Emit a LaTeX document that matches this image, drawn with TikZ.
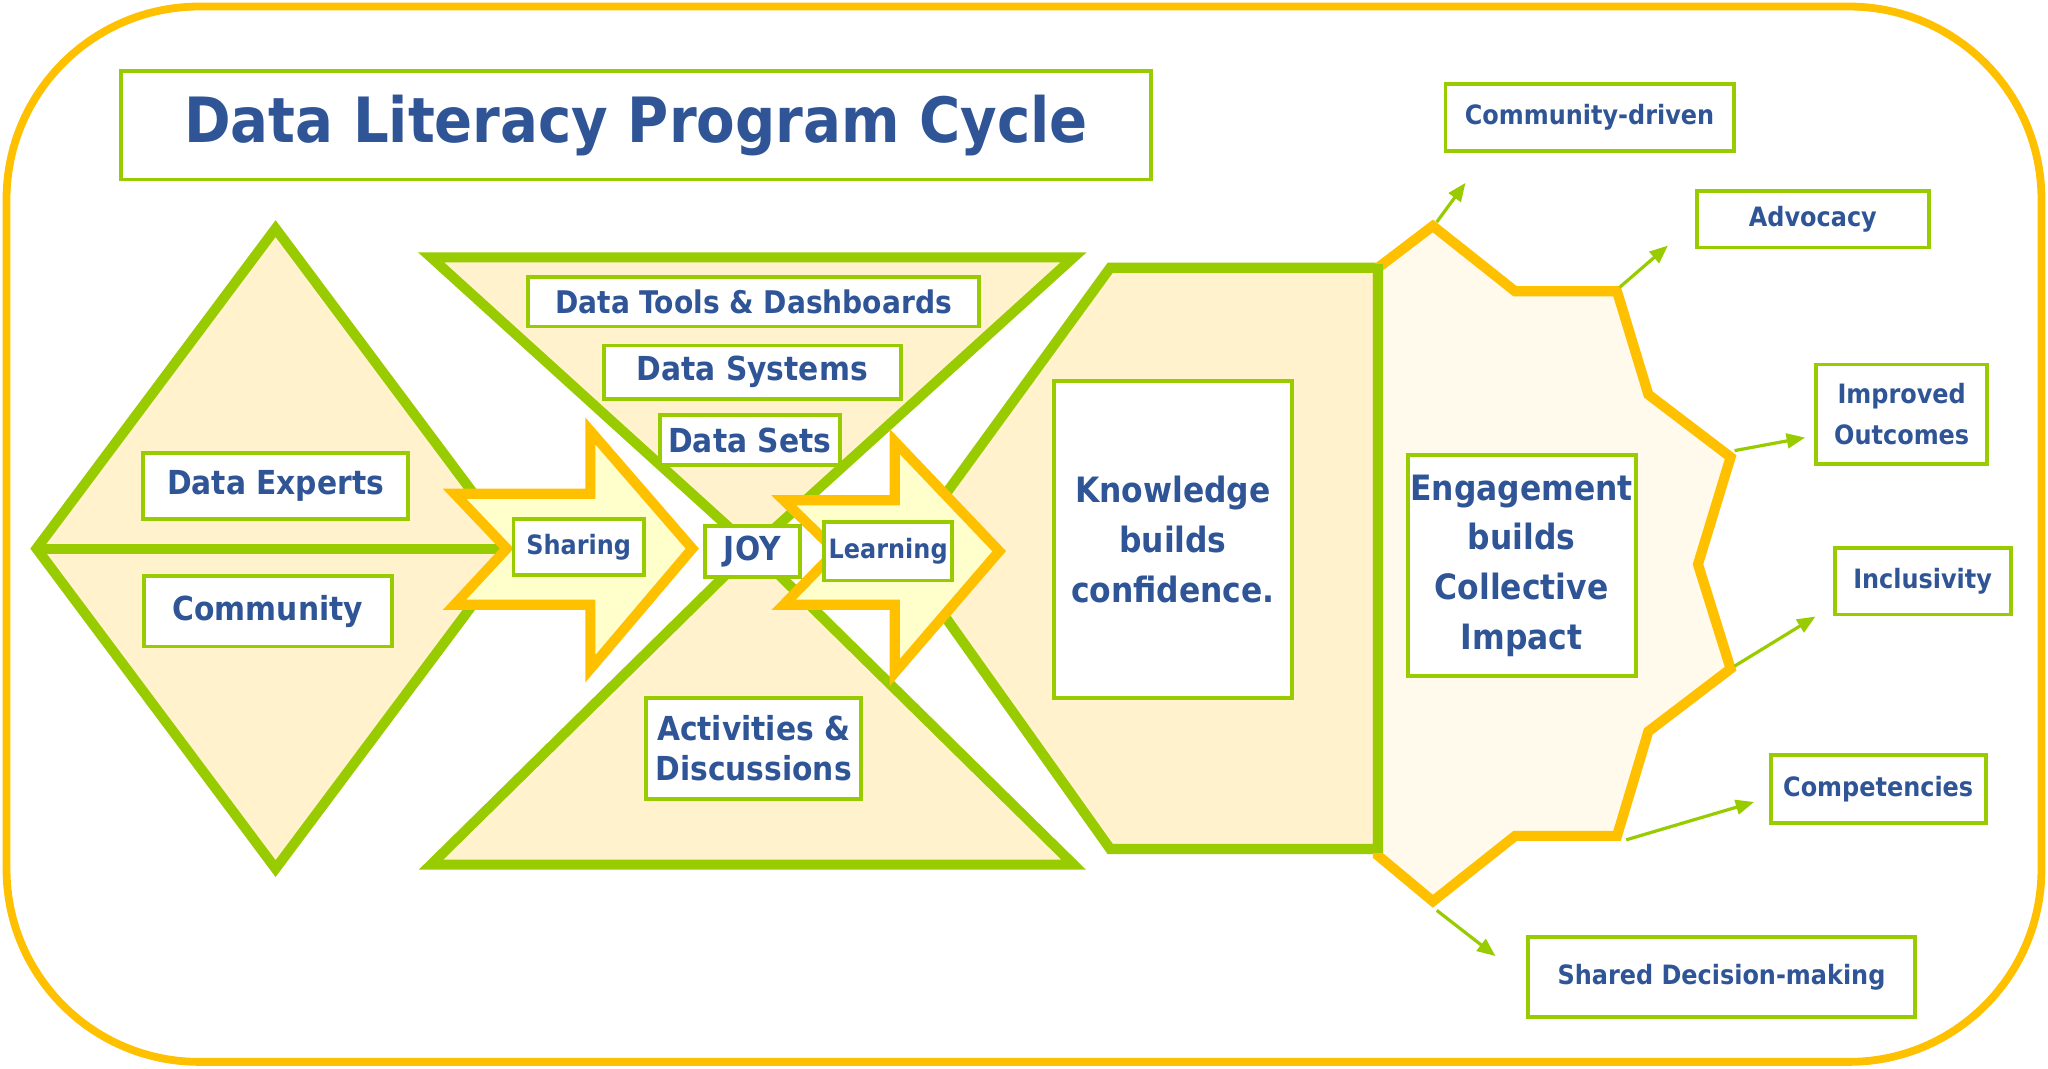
\documentclass[tikz,border=0pt]{standalone}
\usepackage{fontspec}
\setmainfont{DejaVu Sans Condensed}
\usetikzlibrary{arrows.meta}
\definecolor{gr}{HTML}{99CC00}
\definecolor{og}{HTML}{FFC000}
\definecolor{bg}{HTML}{FFF2CC}
\definecolor{ly}{HTML}{FFFFCC}
\definecolor{tb}{HTML}{2F5597}
\tikzset{
 box/.style={draw=gr,line width=4.2pt,fill=white,text=tb,font=\bfseries\fontsize{36}{44}\selectfont,align=center,inner sep=0pt},
 sbox/.style={box,font=\bfseries\fontsize{29}{40}\selectfont},
 shp/.style={draw=gr,line width=11pt,fill=bg,line join=miter},
 arr/.style={draw=og,line width=11pt,fill=ly,line join=miter},
 con/.style={draw=gr,line width=3.5pt,-{Triangle[length=20pt,width=16pt]}}
}
\begin{document}
\begin{tikzpicture}[x=0.05cm,y=-0.05cm]
\useasboundingbox (0,0) rectangle (1568,818);
\draw[og,line width=8.5pt,rounded corners=210] (5,5) rectangle (1563,813);
\node[box,minimum width=790*1.42pt,minimum height=83*1.42pt,font=\bfseries\fontsize{68}{80}\selectfont] (title) at (487,96) {Data Literacy Program Cycle};
% diamond
\draw[shp] (211,175) -- (394,420) -- (211,665) -- (28,420) -- cycle;
\draw[draw=gr,line width=11pt] (28,420) -- (394,420);
% hourglass
\draw[shp] (330,197) -- (822,197) -- (576,420) -- cycle;
\draw[shp] (330,662) -- (822,662) -- (576,420) -- cycle;
% knowledge shape
\draw[shp] (850,205) -- (1055,205) -- (1055,650) -- (850,650) -- (690,425) -- cycle;
% engagement shape
\draw[draw=og,line width=11pt,fill=bg!40,line join=miter] (1055,205) -- (1097,173) -- (1160,223) -- (1238,223) -- (1262,302) -- (1325,350) -- (1300,432) -- (1325,512) -- (1262,560) -- (1238,640) -- (1160,640) -- (1097,690) -- (1055,655) -- cycle;
\draw[draw=gr,line width=11pt] (1055,202) -- (1055,653);
% arrows
\draw[arr] (348,378) -- (452,378) -- (452,330) -- (530,420) -- (452,512) -- (452,463) -- (348,463) -- (388,420) -- cycle;
\draw[arr] (600,383) -- (685,383) -- (685,338) -- (765,422) -- (685,515) -- (685,463) -- (600,463) -- (640,422) -- cycle;
% boxes
\node[box,minimum width=203*1.42pt,minimum height=51*1.42pt] (de) at (211,372) {Data Experts};
\node[box,minimum width=190*1.42pt,minimum height=54*1.42pt] (co) at (205,468) {Community};
\node[box,minimum width=346*1.42pt,minimum height=38*1.42pt,font=\bfseries\fontsize{34}{40}\selectfont] (dt) at (577,231) {Data Tools \& Dashboards};
\node[box,minimum width=228*1.42pt,minimum height=41*1.42pt] (ds) at (576,285) {Data Systems};
\node[box,minimum width=138*1.42pt,minimum height=38*1.42pt] (dset) at (574,337) {Data Sets};
\node[box,minimum width=73*1.42pt,minimum height=39*1.42pt] (joy) at (576,422) {JOY};
\node[sbox,minimum width=100*1.42pt,minimum height=43*1.42pt] (sh) at (443,419) {Sharing};
\node[sbox,minimum width=98*1.42pt,minimum height=45*1.42pt] (le) at (680,422) {Learning};
\node[box,minimum width=165*1.42pt,minimum height=78*1.42pt] (ac) at (577,573) {Activities \&\\Discussions};
\node[box,minimum width=183*1.42pt,minimum height=243*1.42pt,font=\bfseries\fontsize{38}{54}\selectfont] (kn) at (898,413) {Knowledge\\builds\\confidence.};
\node[box,minimum width=175*1.42pt,minimum height=170*1.42pt,font=\bfseries\fontsize{38}{54}\selectfont] (en) at (1165,433) {Engagement\\builds\\Collective\\Impact};
\node[sbox,minimum width=221*1.42pt,minimum height=51*1.42pt] (r1) at (1217,90) {Community-driven};
\node[sbox,minimum width=178*1.42pt,minimum height=43*1.42pt] (r2) at (1388,168) {Advocacy};
\node[sbox,minimum width=131*1.42pt,minimum height=76*1.42pt,font=\bfseries\fontsize{29}{44}\selectfont] (r3) at (1456,317) {Improved\\Outcomes};
\node[sbox,minimum width=135*1.42pt,minimum height=51*1.42pt] (r4) at (1472,445) {Inclusivity};
\node[sbox,minimum width=165*1.42pt,minimum height=52*1.42pt] (r5) at (1438,604) {Competencies};
\node[sbox,minimum width=297*1.42pt,minimum height=61*1.42pt] (r6) at (1318,748) {Shared Decision-making};
% connectors
\coordinate (a1) at (1100,170); \coordinate (b1) at (1122,140);
\coordinate (a2) at (1240,220); \coordinate (b2) at (1277,188);
\coordinate (a3) at (1328,345); \coordinate (b3) at (1382,335);
\coordinate (a4) at (1328,510); \coordinate (b4) at (1390,472);
\coordinate (a5) at (1245,643); \coordinate (b5) at (1343,614);
\coordinate (a6) at (1100,697); \coordinate (b6) at (1145,732);
\foreach \i in {1,...,6} {\draw[con] (a\i) -- (b\i);}
\end{tikzpicture}
\end{document}
